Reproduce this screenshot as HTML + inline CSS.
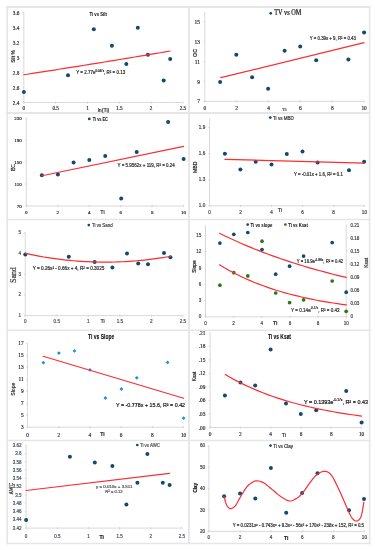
<!DOCTYPE html>
<html><head><meta charset="utf-8"><style>
html,body{margin:0;padding:0;background:#fff;width:375px;height:550px;overflow:hidden}
svg{display:block;filter:blur(0.3px)}
text{stroke-width:0.2px}
</style></head><body>
<svg width="375" height="550" viewBox="0 0 375 550" shape-rendering="auto">
<rect width="375" height="550" fill="#fff"/>
<line x1="6" y1="7" x2="370.4" y2="7" stroke="#e6e6e6" stroke-width="2.0"/>
<line x1="6" y1="113" x2="370.4" y2="113" stroke="#e6e6e6" stroke-width="2.0"/>
<line x1="6" y1="219.5" x2="370.4" y2="219.5" stroke="#e6e6e6" stroke-width="1.6"/>
<line x1="6" y1="330.2" x2="370.4" y2="330.2" stroke="#e6e6e6" stroke-width="1.6"/>
<line x1="6" y1="440.5" x2="370.4" y2="440.5" stroke="#e6e6e6" stroke-width="1.4"/>
<line x1="6" y1="543.5" x2="370.4" y2="543.5" stroke="#e6e6e6" stroke-width="1.6"/>
<line x1="7.2" y1="6" x2="7.2" y2="544.3" stroke="#e6e6e6" stroke-width="1.7"/>
<line x1="189" y1="6" x2="189" y2="544.3" stroke="#e6e6e6" stroke-width="1.9"/>
<line x1="369.6" y1="6" x2="369.6" y2="544.3" stroke="#e6e6e6" stroke-width="1.6"/>
<line x1="23.8" y1="12.5" x2="23.8" y2="102.5" stroke="#cfcfcf" stroke-width="0.8"/>
<line x1="23.8" y1="102.5" x2="182.9" y2="102.5" stroke="#cfcfcf" stroke-width="0.8"/>
<line x1="22.6" y1="102.5" x2="23.8" y2="102.5" stroke="#cfcfcf" stroke-width="0.8"/>
<line x1="22.6" y1="87.5" x2="23.8" y2="87.5" stroke="#cfcfcf" stroke-width="0.8"/>
<line x1="22.6" y1="72.5" x2="23.8" y2="72.5" stroke="#cfcfcf" stroke-width="0.8"/>
<line x1="22.6" y1="57.5" x2="23.8" y2="57.5" stroke="#cfcfcf" stroke-width="0.8"/>
<line x1="22.6" y1="42.5" x2="23.8" y2="42.5" stroke="#cfcfcf" stroke-width="0.8"/>
<line x1="22.6" y1="27.5" x2="23.8" y2="27.5" stroke="#cfcfcf" stroke-width="0.8"/>
<line x1="22.6" y1="12.5" x2="23.8" y2="12.5" stroke="#cfcfcf" stroke-width="0.8"/>
<line x1="23.8" y1="101.5" x2="23.8" y2="103.7" stroke="#cfcfcf" stroke-width="0.8"/>
<line x1="55.62" y1="101.5" x2="55.62" y2="103.7" stroke="#cfcfcf" stroke-width="0.8"/>
<line x1="87.44" y1="101.5" x2="87.44" y2="103.7" stroke="#cfcfcf" stroke-width="0.8"/>
<line x1="119.26" y1="101.5" x2="119.26" y2="103.7" stroke="#cfcfcf" stroke-width="0.8"/>
<line x1="151.08" y1="101.5" x2="151.08" y2="103.7" stroke="#cfcfcf" stroke-width="0.8"/>
<line x1="182.9" y1="101.5" x2="182.9" y2="103.7" stroke="#cfcfcf" stroke-width="0.8"/>
<text x="19.3" y="102.5" font-size="5.2" text-anchor="end" fill="#333" stroke="#333" font-weight="normal" font-family='"Liberation Serif", serif' dominant-baseline="central">2.4</text>
<text x="19.3" y="87.5" font-size="5.2" text-anchor="end" fill="#333" stroke="#333" font-weight="normal" font-family='"Liberation Serif", serif' dominant-baseline="central">2.6</text>
<text x="19.3" y="72.5" font-size="5.2" text-anchor="end" fill="#333" stroke="#333" font-weight="normal" font-family='"Liberation Serif", serif' dominant-baseline="central">2.8</text>
<text x="19.3" y="57.5" font-size="5.2" text-anchor="end" fill="#333" stroke="#333" font-weight="normal" font-family='"Liberation Serif", serif' dominant-baseline="central">3</text>
<text x="19.3" y="42.5" font-size="5.2" text-anchor="end" fill="#333" stroke="#333" font-weight="normal" font-family='"Liberation Serif", serif' dominant-baseline="central">3.2</text>
<text x="19.3" y="27.5" font-size="5.2" text-anchor="end" fill="#333" stroke="#333" font-weight="normal" font-family='"Liberation Serif", serif' dominant-baseline="central">3.4</text>
<text x="19.3" y="12.5" font-size="5.2" text-anchor="end" fill="#333" stroke="#333" font-weight="normal" font-family='"Liberation Serif", serif' dominant-baseline="central">3.6</text>
<text x="23.8" y="108.3" font-size="5.2" text-anchor="middle" fill="#333" stroke="#333" font-weight="normal" font-family='"Liberation Serif", serif' dominant-baseline="central">0</text>
<text x="55.62" y="108.3" font-size="5.2" text-anchor="middle" fill="#333" stroke="#333" font-weight="normal" font-family='"Liberation Serif", serif' dominant-baseline="central">0.5</text>
<text x="87.44" y="108.3" font-size="5.2" text-anchor="middle" fill="#333" stroke="#333" font-weight="normal" font-family='"Liberation Serif", serif' dominant-baseline="central">1</text>
<text x="119.26" y="108.3" font-size="5.2" text-anchor="middle" fill="#333" stroke="#333" font-weight="normal" font-family='"Liberation Serif", serif' dominant-baseline="central">1.5</text>
<text x="151.08" y="108.3" font-size="5.2" text-anchor="middle" fill="#333" stroke="#333" font-weight="normal" font-family='"Liberation Serif", serif' dominant-baseline="central">2</text>
<text x="182.9" y="108.3" font-size="5.2" text-anchor="middle" fill="#333" stroke="#333" font-weight="normal" font-family='"Liberation Serif", serif' dominant-baseline="central">2.5</text>
<circle cx="23.9" cy="92" r="2.0" fill="#114a6e"/>
<circle cx="68" cy="75.2" r="2.0" fill="#114a6e"/>
<circle cx="93.8" cy="29.3" r="2.0" fill="#114a6e"/>
<circle cx="111.9" cy="45.7" r="2.0" fill="#114a6e"/>
<circle cx="126.3" cy="64.1" r="2.0" fill="#114a6e"/>
<circle cx="137.8" cy="27.7" r="2.0" fill="#114a6e"/>
<circle cx="147.9" cy="54.7" r="2.0" fill="#114a6e"/>
<circle cx="163.7" cy="80.6" r="2.0" fill="#114a6e"/>
<circle cx="170.2" cy="59" r="2.0" fill="#114a6e"/>
<text x="89.4" y="14.2" font-size="5.2" fill="#111" stroke="#111" style="stroke-width:0.05px" font-weight="bold" font-family='"Liberation Sans", sans-serif' dominant-baseline="central" textLength="17.5" lengthAdjust="spacingAndGlyphs">Ti vs Silt</text>
<text x="12.8" y="56.5" font-size="5.2" text-anchor="middle" fill="#222" stroke="#222" font-weight="normal" font-family='"Liberation Sans", sans-serif' dominant-baseline="central" transform="rotate(-90 12.8 56.5)" textLength="12.6" lengthAdjust="spacingAndGlyphs">Silt %</text>
<text x="103.5" y="110.2" font-size="5.2" text-anchor="middle" fill="#333" stroke="#333" font-weight="normal" font-family='"Liberation Sans", sans-serif' dominant-baseline="central">ln(Ti)</text>
<text x="76.2" y="71.9" font-size="5.0" fill="#2a2a2a" stroke="#2a2a2a" font-weight="normal" font-family='"Liberation Sans", sans-serif' dominant-baseline="central" textLength="49" lengthAdjust="spacingAndGlyphs">Y = 2.77e<tspan dy="-1.4" font-size="3.2">0.047x</tspan><tspan dy="1.4">, R² = 0.13</tspan></text>
<line x1="204.8" y1="12" x2="204.8" y2="101.4" stroke="#cfcfcf" stroke-width="0.8"/>
<line x1="204.8" y1="101.4" x2="364.1" y2="101.4" stroke="#cfcfcf" stroke-width="0.8"/>
<line x1="203.6" y1="101.4" x2="204.8" y2="101.4" stroke="#cfcfcf" stroke-width="0.8"/>
<line x1="203.6" y1="81.5" x2="204.8" y2="81.5" stroke="#cfcfcf" stroke-width="0.8"/>
<line x1="203.6" y1="61.6" x2="204.8" y2="61.6" stroke="#cfcfcf" stroke-width="0.8"/>
<line x1="203.6" y1="41.7" x2="204.8" y2="41.7" stroke="#cfcfcf" stroke-width="0.8"/>
<line x1="203.6" y1="21.8" x2="204.8" y2="21.8" stroke="#cfcfcf" stroke-width="0.8"/>
<line x1="204.8" y1="100.4" x2="204.8" y2="102.6" stroke="#cfcfcf" stroke-width="0.8"/>
<line x1="236.66" y1="100.4" x2="236.66" y2="102.6" stroke="#cfcfcf" stroke-width="0.8"/>
<line x1="268.52" y1="100.4" x2="268.52" y2="102.6" stroke="#cfcfcf" stroke-width="0.8"/>
<line x1="300.38" y1="100.4" x2="300.38" y2="102.6" stroke="#cfcfcf" stroke-width="0.8"/>
<line x1="332.24" y1="100.4" x2="332.24" y2="102.6" stroke="#cfcfcf" stroke-width="0.8"/>
<line x1="364.1" y1="100.4" x2="364.1" y2="102.6" stroke="#cfcfcf" stroke-width="0.8"/>
<text x="200" y="101.4" font-size="5.4" text-anchor="end" fill="#333" stroke="#333" font-weight="normal" font-family='"Liberation Serif", serif' dominant-baseline="central">7</text>
<text x="200" y="81.5" font-size="5.4" text-anchor="end" fill="#333" stroke="#333" font-weight="normal" font-family='"Liberation Serif", serif' dominant-baseline="central">9</text>
<text x="200" y="61.6" font-size="5.4" text-anchor="end" fill="#333" stroke="#333" font-weight="normal" font-family='"Liberation Serif", serif' dominant-baseline="central">11</text>
<text x="200" y="41.7" font-size="5.4" text-anchor="end" fill="#333" stroke="#333" font-weight="normal" font-family='"Liberation Serif", serif' dominant-baseline="central">13</text>
<text x="200" y="21.8" font-size="5.4" text-anchor="end" fill="#333" stroke="#333" font-weight="normal" font-family='"Liberation Serif", serif' dominant-baseline="central">15</text>
<text x="204.8" y="107.5" font-size="5.4" text-anchor="middle" fill="#333" stroke="#333" font-weight="normal" font-family='"Liberation Serif", serif' dominant-baseline="central">0</text>
<text x="236.66" y="107.5" font-size="5.4" text-anchor="middle" fill="#333" stroke="#333" font-weight="normal" font-family='"Liberation Serif", serif' dominant-baseline="central">2</text>
<text x="268.52" y="107.5" font-size="5.4" text-anchor="middle" fill="#333" stroke="#333" font-weight="normal" font-family='"Liberation Serif", serif' dominant-baseline="central">4</text>
<text x="300.38" y="107.5" font-size="5.4" text-anchor="middle" fill="#333" stroke="#333" font-weight="normal" font-family='"Liberation Serif", serif' dominant-baseline="central">6</text>
<text x="332.24" y="107.5" font-size="5.4" text-anchor="middle" fill="#333" stroke="#333" font-weight="normal" font-family='"Liberation Serif", serif' dominant-baseline="central">8</text>
<text x="364.1" y="107.5" font-size="5.4" text-anchor="middle" fill="#333" stroke="#333" font-weight="normal" font-family='"Liberation Serif", serif' dominant-baseline="central">10</text>
<circle cx="220.1" cy="82" r="2.0" fill="#114a6e"/>
<circle cx="236.3" cy="54.8" r="2.0" fill="#114a6e"/>
<circle cx="252.1" cy="77.2" r="2.0" fill="#114a6e"/>
<circle cx="268.1" cy="88.8" r="2.0" fill="#114a6e"/>
<circle cx="284.6" cy="50.7" r="2.0" fill="#114a6e"/>
<circle cx="300.2" cy="46.5" r="2.0" fill="#114a6e"/>
<circle cx="316.2" cy="60.2" r="2.0" fill="#114a6e"/>
<circle cx="348.4" cy="59.4" r="2.0" fill="#114a6e"/>
<circle cx="364.1" cy="32.5" r="2.0" fill="#114a6e"/>
<circle cx="270.7" cy="13.3" r="1.35" fill="#114a6e"/>
<text x="274.3" y="13.1" font-size="7.2" fill="#111" stroke="#111" font-weight="normal" font-family='"Liberation Serif", serif' dominant-baseline="central" textLength="27" lengthAdjust="spacingAndGlyphs">TV vs OM</text>
<text x="194.6" y="53" font-size="5.2" text-anchor="middle" fill="#333" stroke="#333" font-weight="bold" font-family='"Liberation Sans", sans-serif' dominant-baseline="central" transform="rotate(-90 194.6 53)">OC</text>
<text x="284.5" y="109.1" font-size="5.0" text-anchor="middle" fill="#444" stroke="#444" font-weight="normal" font-family='"Liberation Serif", serif' dominant-baseline="central">Ti</text>
<text x="309.8" y="37.5" font-size="5.0" fill="#2a2a2a" stroke="#2a2a2a" font-weight="normal" font-family='"Liberation Sans", sans-serif' dominant-baseline="central" textLength="46.1" lengthAdjust="spacingAndGlyphs">Y = 0.39x + 9, R² = 0.43</text>
<line x1="26.3" y1="118" x2="26.3" y2="206" stroke="#cfcfcf" stroke-width="0.8"/>
<line x1="26.3" y1="206" x2="183.6" y2="206" stroke="#cfcfcf" stroke-width="0.8"/>
<line x1="25.1" y1="206" x2="26.3" y2="206" stroke="#cfcfcf" stroke-width="0.8"/>
<line x1="25.1" y1="184" x2="26.3" y2="184" stroke="#cfcfcf" stroke-width="0.8"/>
<line x1="25.1" y1="162" x2="26.3" y2="162" stroke="#cfcfcf" stroke-width="0.8"/>
<line x1="25.1" y1="140" x2="26.3" y2="140" stroke="#cfcfcf" stroke-width="0.8"/>
<line x1="25.1" y1="118" x2="26.3" y2="118" stroke="#cfcfcf" stroke-width="0.8"/>
<line x1="26.3" y1="205" x2="26.3" y2="207.2" stroke="#cfcfcf" stroke-width="0.8"/>
<line x1="57.76" y1="205" x2="57.76" y2="207.2" stroke="#cfcfcf" stroke-width="0.8"/>
<line x1="89.22" y1="205" x2="89.22" y2="207.2" stroke="#cfcfcf" stroke-width="0.8"/>
<line x1="120.68" y1="205" x2="120.68" y2="207.2" stroke="#cfcfcf" stroke-width="0.8"/>
<line x1="152.14" y1="205" x2="152.14" y2="207.2" stroke="#cfcfcf" stroke-width="0.8"/>
<line x1="183.6" y1="205" x2="183.6" y2="207.2" stroke="#cfcfcf" stroke-width="0.8"/>
<text x="21.8" y="206" font-size="5.0" text-anchor="end" fill="#333" stroke="#333" font-weight="normal" font-family='"Liberation Serif", serif' dominant-baseline="central">70</text>
<text x="21.8" y="184" font-size="5.0" text-anchor="end" fill="#333" stroke="#333" font-weight="normal" font-family='"Liberation Serif", serif' dominant-baseline="central">110</text>
<text x="21.8" y="162" font-size="5.0" text-anchor="end" fill="#333" stroke="#333" font-weight="normal" font-family='"Liberation Serif", serif' dominant-baseline="central">150</text>
<text x="21.8" y="140" font-size="5.0" text-anchor="end" fill="#333" stroke="#333" font-weight="normal" font-family='"Liberation Serif", serif' dominant-baseline="central">190</text>
<text x="21.8" y="118" font-size="5.0" text-anchor="end" fill="#333" stroke="#333" font-weight="normal" font-family='"Liberation Serif", serif' dominant-baseline="central">230</text>
<text x="26.3" y="212.2" font-size="5.0" text-anchor="middle" fill="#333" stroke="#333" font-weight="normal" font-family='"Liberation Serif", serif' dominant-baseline="central">0</text>
<text x="57.76" y="212.2" font-size="5.0" text-anchor="middle" fill="#333" stroke="#333" font-weight="normal" font-family='"Liberation Serif", serif' dominant-baseline="central">2</text>
<text x="89.22" y="212.2" font-size="5.0" text-anchor="middle" fill="#333" stroke="#333" font-weight="normal" font-family='"Liberation Serif", serif' dominant-baseline="central">4</text>
<text x="120.68" y="212.2" font-size="5.0" text-anchor="middle" fill="#333" stroke="#333" font-weight="normal" font-family='"Liberation Serif", serif' dominant-baseline="central">6</text>
<text x="152.14" y="212.2" font-size="5.0" text-anchor="middle" fill="#333" stroke="#333" font-weight="normal" font-family='"Liberation Serif", serif' dominant-baseline="central">8</text>
<text x="183.6" y="212.2" font-size="5.0" text-anchor="middle" fill="#333" stroke="#333" font-weight="normal" font-family='"Liberation Serif", serif' dominant-baseline="central">10</text>
<circle cx="41.9" cy="175.3" r="2.0" fill="#114a6e"/>
<circle cx="57.9" cy="174.5" r="2.0" fill="#114a6e"/>
<circle cx="73.6" cy="162.5" r="2.0" fill="#114a6e"/>
<circle cx="89.3" cy="159.9" r="2.0" fill="#114a6e"/>
<circle cx="105.2" cy="155.9" r="2.0" fill="#114a6e"/>
<circle cx="121.2" cy="198.5" r="2.0" fill="#114a6e"/>
<circle cx="136.7" cy="152.1" r="2.0" fill="#114a6e"/>
<circle cx="168.1" cy="122" r="2.0" fill="#114a6e"/>
<circle cx="183.6" cy="159.1" r="2.0" fill="#114a6e"/>
<circle cx="89.3" cy="118.9" r="1.35" fill="#114a6e"/>
<text x="92.7" y="118.9" font-size="5.0" fill="#111" stroke="#111" style="stroke-width:0.05px" font-weight="bold" font-family='"Liberation Sans", sans-serif' dominant-baseline="central" textLength="15.2" lengthAdjust="spacingAndGlyphs">Ti vs EC</text>
<text x="13.3" y="167.5" font-size="5.4" text-anchor="middle" fill="#222" stroke="#222" font-weight="normal" font-family='"Liberation Serif", serif' dominant-baseline="central" transform="rotate(-90 13.3 167.5)">EC</text>
<text x="102.5" y="211.8" font-size="5.4" text-anchor="middle" fill="#333" stroke="#333" font-weight="normal" font-family='"Liberation Sans", sans-serif' dominant-baseline="central">Ti</text>
<text x="117.6" y="165" font-size="5.0" fill="#2a2a2a" stroke="#2a2a2a" font-weight="normal" font-family='"Liberation Sans", sans-serif' dominant-baseline="central" textLength="57.2" lengthAdjust="spacingAndGlyphs">Y = 5.9562x + 119, R² = 0.24</text>
<line x1="209.6" y1="118.5" x2="209.6" y2="205.8" stroke="#cfcfcf" stroke-width="0.8"/>
<line x1="209.6" y1="205.8" x2="364.4" y2="205.8" stroke="#cfcfcf" stroke-width="0.8"/>
<line x1="208.4" y1="205.8" x2="209.6" y2="205.8" stroke="#cfcfcf" stroke-width="0.8"/>
<line x1="208.4" y1="179.7" x2="209.6" y2="179.7" stroke="#cfcfcf" stroke-width="0.8"/>
<line x1="208.4" y1="153.6" x2="209.6" y2="153.6" stroke="#cfcfcf" stroke-width="0.8"/>
<line x1="208.4" y1="127.5" x2="209.6" y2="127.5" stroke="#cfcfcf" stroke-width="0.8"/>
<line x1="209.6" y1="204.8" x2="209.6" y2="207" stroke="#cfcfcf" stroke-width="0.8"/>
<line x1="240.56" y1="204.8" x2="240.56" y2="207" stroke="#cfcfcf" stroke-width="0.8"/>
<line x1="271.52" y1="204.8" x2="271.52" y2="207" stroke="#cfcfcf" stroke-width="0.8"/>
<line x1="302.48" y1="204.8" x2="302.48" y2="207" stroke="#cfcfcf" stroke-width="0.8"/>
<line x1="333.44" y1="204.8" x2="333.44" y2="207" stroke="#cfcfcf" stroke-width="0.8"/>
<line x1="364.4" y1="204.8" x2="364.4" y2="207" stroke="#cfcfcf" stroke-width="0.8"/>
<text x="205.2" y="205.8" font-size="4.6" text-anchor="end" fill="#4a4a4a" stroke="#4a4a4a" font-weight="normal" font-family='"Liberation Sans", sans-serif' dominant-baseline="central">1.0</text>
<text x="205.2" y="179.7" font-size="4.6" text-anchor="end" fill="#4a4a4a" stroke="#4a4a4a" font-weight="normal" font-family='"Liberation Sans", sans-serif' dominant-baseline="central">1.3</text>
<text x="205.2" y="153.6" font-size="4.6" text-anchor="end" fill="#4a4a4a" stroke="#4a4a4a" font-weight="normal" font-family='"Liberation Sans", sans-serif' dominant-baseline="central">1.6</text>
<text x="205.2" y="127.5" font-size="4.6" text-anchor="end" fill="#4a4a4a" stroke="#4a4a4a" font-weight="normal" font-family='"Liberation Sans", sans-serif' dominant-baseline="central">1.9</text>
<text x="209.6" y="212.4" font-size="4.6" text-anchor="middle" fill="#4a4a4a" stroke="#4a4a4a" font-weight="normal" font-family='"Liberation Sans", sans-serif' dominant-baseline="central">0</text>
<text x="240.56" y="212.4" font-size="4.6" text-anchor="middle" fill="#4a4a4a" stroke="#4a4a4a" font-weight="normal" font-family='"Liberation Sans", sans-serif' dominant-baseline="central">2</text>
<text x="271.52" y="212.4" font-size="4.6" text-anchor="middle" fill="#4a4a4a" stroke="#4a4a4a" font-weight="normal" font-family='"Liberation Sans", sans-serif' dominant-baseline="central">4</text>
<text x="302.48" y="212.4" font-size="4.6" text-anchor="middle" fill="#4a4a4a" stroke="#4a4a4a" font-weight="normal" font-family='"Liberation Sans", sans-serif' dominant-baseline="central">6</text>
<text x="333.44" y="212.4" font-size="4.6" text-anchor="middle" fill="#4a4a4a" stroke="#4a4a4a" font-weight="normal" font-family='"Liberation Sans", sans-serif' dominant-baseline="central">8</text>
<text x="364.4" y="212.4" font-size="4.6" text-anchor="middle" fill="#4a4a4a" stroke="#4a4a4a" font-weight="normal" font-family='"Liberation Sans", sans-serif' dominant-baseline="central">10</text>
<circle cx="224.9" cy="153.7" r="2.0" fill="#114a6e"/>
<circle cx="240.4" cy="169.5" r="2.0" fill="#114a6e"/>
<circle cx="255.7" cy="161.7" r="2.0" fill="#114a6e"/>
<circle cx="271.5" cy="164.6" r="2.0" fill="#114a6e"/>
<circle cx="286.8" cy="154" r="2.0" fill="#114a6e"/>
<circle cx="302.5" cy="151.4" r="2.0" fill="#114a6e"/>
<circle cx="317.6" cy="162.6" r="2.0" fill="#114a6e"/>
<circle cx="349" cy="170.2" r="2.0" fill="#114a6e"/>
<circle cx="364.1" cy="161.8" r="2.0" fill="#114a6e"/>
<circle cx="270.3" cy="117.6" r="1.35" fill="#114a6e"/>
<text x="273" y="117.6" font-size="5.0" fill="#333" stroke="#333" font-weight="normal" font-family='"Liberation Sans", sans-serif' dominant-baseline="central" textLength="20.8" lengthAdjust="spacingAndGlyphs">Ti vs MBD</text>
<text x="194.7" y="167.2" font-size="5.0" text-anchor="middle" fill="#222" stroke="#222" font-weight="normal" font-family='"Liberation Sans", sans-serif' dominant-baseline="central" transform="rotate(-90 194.7 167.2)" textLength="11.4" lengthAdjust="spacingAndGlyphs">MBD</text>
<text x="279.8" y="210.1" font-size="5.4" text-anchor="middle" fill="#333" stroke="#333" font-weight="normal" font-family='"Liberation Sans", sans-serif' dominant-baseline="central">Ti</text>
<text x="294" y="173.6" font-size="5.0" fill="#2a2a2a" stroke="#2a2a2a" font-weight="normal" font-family='"Liberation Sans", sans-serif' dominant-baseline="central" textLength="48.8" lengthAdjust="spacingAndGlyphs">Y = -0.01x + 1.6, R² = 0.1</text>
<line x1="25.3" y1="232.7" x2="25.3" y2="315.6" stroke="#cfcfcf" stroke-width="0.8"/>
<line x1="25.3" y1="315.6" x2="182.9" y2="315.6" stroke="#cfcfcf" stroke-width="0.8"/>
<line x1="24.1" y1="315.6" x2="25.3" y2="315.6" stroke="#cfcfcf" stroke-width="0.8"/>
<line x1="24.1" y1="294.88" x2="25.3" y2="294.88" stroke="#cfcfcf" stroke-width="0.8"/>
<line x1="24.1" y1="274.15" x2="25.3" y2="274.15" stroke="#cfcfcf" stroke-width="0.8"/>
<line x1="24.1" y1="253.43" x2="25.3" y2="253.43" stroke="#cfcfcf" stroke-width="0.8"/>
<line x1="24.1" y1="232.7" x2="25.3" y2="232.7" stroke="#cfcfcf" stroke-width="0.8"/>
<line x1="25.3" y1="314.6" x2="25.3" y2="316.8" stroke="#cfcfcf" stroke-width="0.8"/>
<line x1="56.82" y1="314.6" x2="56.82" y2="316.8" stroke="#cfcfcf" stroke-width="0.8"/>
<line x1="88.34" y1="314.6" x2="88.34" y2="316.8" stroke="#cfcfcf" stroke-width="0.8"/>
<line x1="119.86" y1="314.6" x2="119.86" y2="316.8" stroke="#cfcfcf" stroke-width="0.8"/>
<line x1="151.38" y1="314.6" x2="151.38" y2="316.8" stroke="#cfcfcf" stroke-width="0.8"/>
<line x1="182.9" y1="314.6" x2="182.9" y2="316.8" stroke="#cfcfcf" stroke-width="0.8"/>
<text x="21" y="315.6" font-size="4.6" text-anchor="end" fill="#555" stroke="#555" font-weight="normal" font-family='"Liberation Sans", sans-serif' dominant-baseline="central">1</text>
<text x="21" y="294.88" font-size="4.6" text-anchor="end" fill="#555" stroke="#555" font-weight="normal" font-family='"Liberation Sans", sans-serif' dominant-baseline="central">2</text>
<text x="21" y="274.15" font-size="4.6" text-anchor="end" fill="#555" stroke="#555" font-weight="normal" font-family='"Liberation Sans", sans-serif' dominant-baseline="central">3</text>
<text x="21" y="253.43" font-size="4.6" text-anchor="end" fill="#555" stroke="#555" font-weight="normal" font-family='"Liberation Sans", sans-serif' dominant-baseline="central">4</text>
<text x="21" y="232.7" font-size="4.6" text-anchor="end" fill="#555" stroke="#555" font-weight="normal" font-family='"Liberation Sans", sans-serif' dominant-baseline="central">5</text>
<text x="25.3" y="321.8" font-size="4.6" text-anchor="middle" fill="#555" stroke="#555" font-weight="normal" font-family='"Liberation Sans", sans-serif' dominant-baseline="central">0</text>
<text x="56.82" y="321.8" font-size="4.6" text-anchor="middle" fill="#555" stroke="#555" font-weight="normal" font-family='"Liberation Sans", sans-serif' dominant-baseline="central">0.5</text>
<text x="88.34" y="321.8" font-size="4.6" text-anchor="middle" fill="#555" stroke="#555" font-weight="normal" font-family='"Liberation Sans", sans-serif' dominant-baseline="central">1</text>
<text x="119.86" y="321.8" font-size="4.6" text-anchor="middle" fill="#555" stroke="#555" font-weight="normal" font-family='"Liberation Sans", sans-serif' dominant-baseline="central">1.5</text>
<text x="151.38" y="321.8" font-size="4.6" text-anchor="middle" fill="#555" stroke="#555" font-weight="normal" font-family='"Liberation Sans", sans-serif' dominant-baseline="central">2</text>
<text x="182.9" y="321.8" font-size="4.6" text-anchor="middle" fill="#555" stroke="#555" font-weight="normal" font-family='"Liberation Sans", sans-serif' dominant-baseline="central">2.5</text>
<circle cx="25.3" cy="254.5" r="2.0" fill="#114a6e"/>
<circle cx="68.8" cy="256.7" r="2.0" fill="#114a6e"/>
<circle cx="94.7" cy="262" r="2.0" fill="#114a6e"/>
<circle cx="112.4" cy="267.6" r="2.0" fill="#114a6e"/>
<circle cx="127" cy="253.6" r="2.0" fill="#114a6e"/>
<circle cx="138.2" cy="263.6" r="2.0" fill="#114a6e"/>
<circle cx="148" cy="264.2" r="2.0" fill="#114a6e"/>
<circle cx="164" cy="253" r="2.0" fill="#114a6e"/>
<circle cx="170.4" cy="257.2" r="2.0" fill="#114a6e"/>
<circle cx="88.8" cy="225.1" r="1.35" fill="#114a6e"/>
<text x="92" y="225.2" font-size="5.0" fill="#444" stroke="#444" font-weight="normal" font-family='"Liberation Sans", sans-serif' dominant-baseline="central" textLength="20.6" lengthAdjust="spacingAndGlyphs">Ti vs Sand</text>
<text x="13.3" y="275.1" font-size="8.4" text-anchor="middle" fill="#333" stroke="#333" font-weight="normal" font-family='"Liberation Serif", serif' dominant-baseline="central" transform="rotate(-90 13.3 275.1)" textLength="15.6" lengthAdjust="spacingAndGlyphs">Sand</text>
<text x="102.6" y="320.8" font-size="5.4" text-anchor="middle" fill="#333" stroke="#333" font-weight="normal" font-family='"Liberation Sans", sans-serif' dominant-baseline="central">Ti</text>
<text x="32.7" y="267.9" font-size="5.0" fill="#2a2a2a" stroke="#2a2a2a" font-weight="normal" font-family='"Liberation Sans", sans-serif' dominant-baseline="central" textLength="71.7" lengthAdjust="spacingAndGlyphs">Y = 0.26x² - 0.66x + 4,   R² = 0.3025</text>
<line x1="205.5" y1="225.3" x2="205.5" y2="316.8" stroke="#cfcfcf" stroke-width="0.8"/>
<line x1="205.5" y1="316.8" x2="346.2" y2="316.8" stroke="#cfcfcf" stroke-width="0.8"/>
<line x1="204.3" y1="316.8" x2="205.5" y2="316.8" stroke="#cfcfcf" stroke-width="0.8"/>
<line x1="204.3" y1="300.54" x2="205.5" y2="300.54" stroke="#cfcfcf" stroke-width="0.8"/>
<line x1="204.3" y1="284.28" x2="205.5" y2="284.28" stroke="#cfcfcf" stroke-width="0.8"/>
<line x1="204.3" y1="268.02" x2="205.5" y2="268.02" stroke="#cfcfcf" stroke-width="0.8"/>
<line x1="204.3" y1="251.76" x2="205.5" y2="251.76" stroke="#cfcfcf" stroke-width="0.8"/>
<line x1="204.3" y1="235.5" x2="205.5" y2="235.5" stroke="#cfcfcf" stroke-width="0.8"/>
<line x1="205.5" y1="315.8" x2="205.5" y2="318" stroke="#cfcfcf" stroke-width="0.8"/>
<line x1="233.64" y1="315.8" x2="233.64" y2="318" stroke="#cfcfcf" stroke-width="0.8"/>
<line x1="261.78" y1="315.8" x2="261.78" y2="318" stroke="#cfcfcf" stroke-width="0.8"/>
<line x1="289.92" y1="315.8" x2="289.92" y2="318" stroke="#cfcfcf" stroke-width="0.8"/>
<line x1="318.06" y1="315.8" x2="318.06" y2="318" stroke="#cfcfcf" stroke-width="0.8"/>
<line x1="346.2" y1="315.8" x2="346.2" y2="318" stroke="#cfcfcf" stroke-width="0.8"/>
<text x="201.3" y="316.8" font-size="4.6" text-anchor="end" fill="#4a4a4a" stroke="#4a4a4a" font-weight="normal" font-family='"Liberation Sans", sans-serif' dominant-baseline="central">0</text>
<text x="201.3" y="300.54" font-size="4.6" text-anchor="end" fill="#4a4a4a" stroke="#4a4a4a" font-weight="normal" font-family='"Liberation Sans", sans-serif' dominant-baseline="central">3</text>
<text x="201.3" y="284.28" font-size="4.6" text-anchor="end" fill="#4a4a4a" stroke="#4a4a4a" font-weight="normal" font-family='"Liberation Sans", sans-serif' dominant-baseline="central">6</text>
<text x="201.3" y="268.02" font-size="4.6" text-anchor="end" fill="#4a4a4a" stroke="#4a4a4a" font-weight="normal" font-family='"Liberation Sans", sans-serif' dominant-baseline="central">9</text>
<text x="201.3" y="251.76" font-size="4.6" text-anchor="end" fill="#4a4a4a" stroke="#4a4a4a" font-weight="normal" font-family='"Liberation Sans", sans-serif' dominant-baseline="central">12</text>
<text x="201.3" y="235.5" font-size="4.6" text-anchor="end" fill="#4a4a4a" stroke="#4a4a4a" font-weight="normal" font-family='"Liberation Sans", sans-serif' dominant-baseline="central">15</text>
<text x="205.5" y="323.6" font-size="4.6" text-anchor="middle" fill="#4a4a4a" stroke="#4a4a4a" font-weight="normal" font-family='"Liberation Sans", sans-serif' dominant-baseline="central">0</text>
<text x="233.64" y="323.6" font-size="4.6" text-anchor="middle" fill="#4a4a4a" stroke="#4a4a4a" font-weight="normal" font-family='"Liberation Sans", sans-serif' dominant-baseline="central">2</text>
<text x="261.78" y="323.6" font-size="4.6" text-anchor="middle" fill="#4a4a4a" stroke="#4a4a4a" font-weight="normal" font-family='"Liberation Sans", sans-serif' dominant-baseline="central">4</text>
<line x1="346.2" y1="225" x2="346.2" y2="316" stroke="#cfcfcf" stroke-width="0.8"/>
<line x1="346.2" y1="316" x2="347.4" y2="316" stroke="#cfcfcf" stroke-width="0.8"/>
<text x="350.4" y="316" font-size="4.6" text-anchor="start" fill="#4a4a4a" stroke="#4a4a4a" font-weight="normal" font-family='"Liberation Sans", sans-serif' dominant-baseline="central">0</text>
<line x1="346.2" y1="303" x2="347.4" y2="303" stroke="#cfcfcf" stroke-width="0.8"/>
<text x="350.4" y="303" font-size="4.6" text-anchor="start" fill="#4a4a4a" stroke="#4a4a4a" font-weight="normal" font-family='"Liberation Sans", sans-serif' dominant-baseline="central">0.03</text>
<line x1="346.2" y1="290" x2="347.4" y2="290" stroke="#cfcfcf" stroke-width="0.8"/>
<text x="350.4" y="290" font-size="4.6" text-anchor="start" fill="#4a4a4a" stroke="#4a4a4a" font-weight="normal" font-family='"Liberation Sans", sans-serif' dominant-baseline="central">0.06</text>
<line x1="346.2" y1="277" x2="347.4" y2="277" stroke="#cfcfcf" stroke-width="0.8"/>
<text x="350.4" y="277" font-size="4.6" text-anchor="start" fill="#4a4a4a" stroke="#4a4a4a" font-weight="normal" font-family='"Liberation Sans", sans-serif' dominant-baseline="central">0.09</text>
<line x1="346.2" y1="264" x2="347.4" y2="264" stroke="#cfcfcf" stroke-width="0.8"/>
<text x="350.4" y="264" font-size="4.6" text-anchor="start" fill="#4a4a4a" stroke="#4a4a4a" font-weight="normal" font-family='"Liberation Sans", sans-serif' dominant-baseline="central">0.12</text>
<line x1="346.2" y1="251" x2="347.4" y2="251" stroke="#cfcfcf" stroke-width="0.8"/>
<text x="350.4" y="251" font-size="4.6" text-anchor="start" fill="#4a4a4a" stroke="#4a4a4a" font-weight="normal" font-family='"Liberation Sans", sans-serif' dominant-baseline="central">0.15</text>
<line x1="346.2" y1="238" x2="347.4" y2="238" stroke="#cfcfcf" stroke-width="0.8"/>
<text x="350.4" y="238" font-size="4.6" text-anchor="start" fill="#4a4a4a" stroke="#4a4a4a" font-weight="normal" font-family='"Liberation Sans", sans-serif' dominant-baseline="central">0.18</text>
<line x1="346.2" y1="225" x2="347.4" y2="225" stroke="#cfcfcf" stroke-width="0.8"/>
<text x="350.4" y="225" font-size="4.6" text-anchor="start" fill="#4a4a4a" stroke="#4a4a4a" font-weight="normal" font-family='"Liberation Sans", sans-serif' dominant-baseline="central">0.21</text>
<text x="289.92" y="323.2" font-size="4.6" text-anchor="middle" fill="#4a4a4a" stroke="#4a4a4a" font-weight="normal" font-family='"Liberation Sans", sans-serif' dominant-baseline="central">6</text>
<text x="318.06" y="323.2" font-size="4.6" text-anchor="middle" fill="#4a4a4a" stroke="#4a4a4a" font-weight="normal" font-family='"Liberation Sans", sans-serif' dominant-baseline="central">8</text>
<text x="346.2" y="323.2" font-size="4.6" text-anchor="middle" fill="#4a4a4a" stroke="#4a4a4a" font-weight="normal" font-family='"Liberation Sans", sans-serif' dominant-baseline="central">10</text>
<circle cx="219.9" cy="243.1" r="1.85" fill="#114a6e"/>
<circle cx="233.8" cy="234.3" r="1.85" fill="#114a6e"/>
<circle cx="247.8" cy="232.5" r="1.85" fill="#114a6e"/>
<circle cx="262" cy="249.5" r="1.85" fill="#114a6e"/>
<circle cx="275.7" cy="274.2" r="1.85" fill="#114a6e"/>
<circle cx="289.6" cy="266.2" r="1.85" fill="#114a6e"/>
<circle cx="303.6" cy="256.1" r="1.85" fill="#114a6e"/>
<circle cx="332.2" cy="242.6" r="1.85" fill="#114a6e"/>
<circle cx="346.2" cy="292.2" r="1.85" fill="#114a6e"/>
<circle cx="219.9" cy="285.2" r="1.85" fill="#2a7a12"/>
<circle cx="233.8" cy="272.7" r="1.85" fill="#2a7a12"/>
<circle cx="247.8" cy="275.9" r="1.85" fill="#2a7a12"/>
<circle cx="262" cy="241.2" r="1.85" fill="#2a7a12"/>
<circle cx="275.7" cy="293" r="1.85" fill="#2a7a12"/>
<circle cx="289.6" cy="302.6" r="1.85" fill="#2a7a12"/>
<circle cx="303.6" cy="299.8" r="1.85" fill="#2a7a12"/>
<circle cx="332.2" cy="281" r="1.85" fill="#2a7a12"/>
<circle cx="346.2" cy="311.3" r="1.85" fill="#2a7a12"/>
<circle cx="247.7" cy="224.6" r="1.35" fill="#114a6e"/>
<text x="250.5" y="224.7" font-size="5.6" fill="#111" stroke="#111" style="stroke-width:0.05px" font-weight="bold" font-family='"Liberation Sans", sans-serif' dominant-baseline="central" textLength="21.9" lengthAdjust="spacingAndGlyphs">Ti vs slope</text>
<circle cx="285.4" cy="224.6" r="1.35" fill="#2a7a12"/>
<text x="288.2" y="224.7" font-size="5.6" fill="#111" stroke="#111" style="stroke-width:0.05px" font-weight="bold" font-family='"Liberation Sans", sans-serif' dominant-baseline="central" textLength="19.6" lengthAdjust="spacingAndGlyphs">Ti vs Ksat</text>
<text x="194.5" y="266.5" font-size="4.8" text-anchor="middle" fill="#222" stroke="#222" font-weight="normal" font-family='"Liberation Sans", sans-serif' dominant-baseline="central" transform="rotate(-90 194.5 266.5)">Slope</text>
<text x="365.6" y="262.9" font-size="5.2" text-anchor="middle" fill="#333" stroke="#333" font-weight="normal" font-family='"Liberation Sans", sans-serif' dominant-baseline="central" transform="rotate(-90 365.6 262.9)" textLength="9.9" lengthAdjust="spacingAndGlyphs">Ksat</text>
<text x="275.2" y="323.2" font-size="5.0" text-anchor="middle" fill="#333" stroke="#333" font-weight="bold" font-family='"Liberation Sans", sans-serif' dominant-baseline="central">Ti</text>
<text x="296.8" y="261.2" font-size="5.4" fill="#2a2a2a" stroke="#2a2a2a" font-weight="normal" font-family='"Liberation Sans", sans-serif' dominant-baseline="central" textLength="46.4" lengthAdjust="spacingAndGlyphs">Y = 16.9e<tspan dy="-1.4" font-size="3.2">-0.095x</tspan><tspan dy="1.4">, R² = 0.42</tspan></text>
<text x="291.1" y="309.7" font-size="5.4" fill="#2a2a2a" stroke="#2a2a2a" font-weight="normal" font-family='"Liberation Sans", sans-serif' dominant-baseline="central" textLength="48.5" lengthAdjust="spacingAndGlyphs">Y = 0.14e<tspan dy="-1.4" font-size="3.2">-0.17x</tspan><tspan dy="1.4">, R² = 0.43</tspan></text>
<line x1="27.5" y1="343.2" x2="27.5" y2="427.2" stroke="#cfcfcf" stroke-width="0.8"/>
<line x1="27.5" y1="427.2" x2="183.6" y2="427.2" stroke="#cfcfcf" stroke-width="0.8"/>
<line x1="26.3" y1="427.2" x2="27.5" y2="427.2" stroke="#cfcfcf" stroke-width="0.8"/>
<line x1="26.3" y1="415.2" x2="27.5" y2="415.2" stroke="#cfcfcf" stroke-width="0.8"/>
<line x1="26.3" y1="403.2" x2="27.5" y2="403.2" stroke="#cfcfcf" stroke-width="0.8"/>
<line x1="26.3" y1="391.2" x2="27.5" y2="391.2" stroke="#cfcfcf" stroke-width="0.8"/>
<line x1="26.3" y1="379.2" x2="27.5" y2="379.2" stroke="#cfcfcf" stroke-width="0.8"/>
<line x1="26.3" y1="367.2" x2="27.5" y2="367.2" stroke="#cfcfcf" stroke-width="0.8"/>
<line x1="26.3" y1="355.2" x2="27.5" y2="355.2" stroke="#cfcfcf" stroke-width="0.8"/>
<line x1="26.3" y1="343.2" x2="27.5" y2="343.2" stroke="#cfcfcf" stroke-width="0.8"/>
<line x1="27.5" y1="426.2" x2="27.5" y2="428.4" stroke="#cfcfcf" stroke-width="0.8"/>
<line x1="58.72" y1="426.2" x2="58.72" y2="428.4" stroke="#cfcfcf" stroke-width="0.8"/>
<line x1="89.94" y1="426.2" x2="89.94" y2="428.4" stroke="#cfcfcf" stroke-width="0.8"/>
<line x1="121.16" y1="426.2" x2="121.16" y2="428.4" stroke="#cfcfcf" stroke-width="0.8"/>
<line x1="152.38" y1="426.2" x2="152.38" y2="428.4" stroke="#cfcfcf" stroke-width="0.8"/>
<line x1="183.6" y1="426.2" x2="183.6" y2="428.4" stroke="#cfcfcf" stroke-width="0.8"/>
<text x="23.6" y="427.2" font-size="5.3" text-anchor="end" fill="#333" stroke="#333" font-weight="normal" font-family='"Liberation Serif", serif' dominant-baseline="central">3</text>
<text x="23.6" y="415.2" font-size="5.3" text-anchor="end" fill="#333" stroke="#333" font-weight="normal" font-family='"Liberation Serif", serif' dominant-baseline="central">5</text>
<text x="23.6" y="403.2" font-size="5.3" text-anchor="end" fill="#333" stroke="#333" font-weight="normal" font-family='"Liberation Serif", serif' dominant-baseline="central">7</text>
<text x="23.6" y="391.2" font-size="5.3" text-anchor="end" fill="#333" stroke="#333" font-weight="normal" font-family='"Liberation Serif", serif' dominant-baseline="central">9</text>
<text x="23.6" y="379.2" font-size="5.3" text-anchor="end" fill="#333" stroke="#333" font-weight="normal" font-family='"Liberation Serif", serif' dominant-baseline="central">11</text>
<text x="23.6" y="367.2" font-size="5.3" text-anchor="end" fill="#333" stroke="#333" font-weight="normal" font-family='"Liberation Serif", serif' dominant-baseline="central">13</text>
<text x="23.6" y="355.2" font-size="5.3" text-anchor="end" fill="#333" stroke="#333" font-weight="normal" font-family='"Liberation Serif", serif' dominant-baseline="central">15</text>
<text x="23.6" y="343.2" font-size="5.3" text-anchor="end" fill="#333" stroke="#333" font-weight="normal" font-family='"Liberation Serif", serif' dominant-baseline="central">17</text>
<text x="27.5" y="434.5" font-size="5.3" text-anchor="middle" fill="#333" stroke="#333" font-weight="normal" font-family='"Liberation Serif", serif' dominant-baseline="central">0</text>
<text x="58.72" y="434.5" font-size="5.3" text-anchor="middle" fill="#333" stroke="#333" font-weight="normal" font-family='"Liberation Serif", serif' dominant-baseline="central">2</text>
<text x="89.94" y="434.5" font-size="5.3" text-anchor="middle" fill="#333" stroke="#333" font-weight="normal" font-family='"Liberation Serif", serif' dominant-baseline="central">4</text>
<text x="121.16" y="434.5" font-size="5.3" text-anchor="middle" fill="#333" stroke="#333" font-weight="normal" font-family='"Liberation Serif", serif' dominant-baseline="central">6</text>
<text x="152.38" y="434.5" font-size="5.3" text-anchor="middle" fill="#333" stroke="#333" font-weight="normal" font-family='"Liberation Serif", serif' dominant-baseline="central">8</text>
<text x="183.6" y="434.5" font-size="5.3" text-anchor="middle" fill="#333" stroke="#333" font-weight="normal" font-family='"Liberation Serif", serif' dominant-baseline="central">10</text>
<path d="M43.4 360.8L45.3 362.7L43.4 364.6L41.5 362.7Z" fill="#1b91e0"/>
<path d="M58.9 351.2L60.8 353.1L58.9 355L57 353.1Z" fill="#1b91e0"/>
<path d="M74.5 349L76.4 350.9L74.5 352.8L72.6 350.9Z" fill="#1b91e0"/>
<path d="M90 368L91.9 369.9L90 371.8L88.1 369.9Z" fill="#1b91e0"/>
<path d="M105.4 396.1L107.3 398L105.4 399.9L103.5 398Z" fill="#1b91e0"/>
<path d="M121.4 387.1L123.3 389L121.4 390.9L119.5 389Z" fill="#1b91e0"/>
<path d="M136.8 375.9L138.7 377.8L136.8 379.7L134.9 377.8Z" fill="#1b91e0"/>
<path d="M167.6 360.5L169.5 362.4L167.6 364.3L165.7 362.4Z" fill="#1b91e0"/>
<path d="M183.6 416.3L185.5 418.2L183.6 420.1L181.7 418.2Z" fill="#1b91e0"/>
<text x="88.1" y="336.4" font-size="6.6" fill="#000" stroke="#000" style="stroke-width:0.05px" font-weight="bold" font-family='"Liberation Sans", sans-serif' dominant-baseline="central" textLength="26.3" lengthAdjust="spacingAndGlyphs">Ti vs Slope</text>
<text x="12.8" y="389.2" font-size="5.0" text-anchor="middle" fill="#333" stroke="#333" font-weight="normal" font-family='"Liberation Sans", sans-serif' dominant-baseline="central" transform="rotate(-90 12.8 389.2)" textLength="13" lengthAdjust="spacingAndGlyphs">Slope</text>
<text x="102.4" y="434.2" font-size="5.0" text-anchor="middle" fill="#333" stroke="#333" font-weight="bold" font-family='"Liberation Sans", sans-serif' dominant-baseline="central">Ti</text>
<text x="116" y="404.5" font-size="6.0" fill="#111" stroke="#111" font-weight="normal" font-family='"Liberation Sans", sans-serif' dominant-baseline="central" textLength="69.1" lengthAdjust="spacingAndGlyphs">Y = -0.778x + 15.6, R² = 0.42</text>
<line x1="210.1" y1="332.9" x2="210.1" y2="427.5" stroke="#cfcfcf" stroke-width="0.8"/>
<line x1="210.1" y1="427.5" x2="361.6" y2="427.5" stroke="#cfcfcf" stroke-width="0.8"/>
<line x1="208.9" y1="427.5" x2="210.1" y2="427.5" stroke="#cfcfcf" stroke-width="0.8"/>
<line x1="208.9" y1="413.99" x2="210.1" y2="413.99" stroke="#cfcfcf" stroke-width="0.8"/>
<line x1="208.9" y1="400.47" x2="210.1" y2="400.47" stroke="#cfcfcf" stroke-width="0.8"/>
<line x1="208.9" y1="386.96" x2="210.1" y2="386.96" stroke="#cfcfcf" stroke-width="0.8"/>
<line x1="208.9" y1="373.44" x2="210.1" y2="373.44" stroke="#cfcfcf" stroke-width="0.8"/>
<line x1="208.9" y1="359.93" x2="210.1" y2="359.93" stroke="#cfcfcf" stroke-width="0.8"/>
<line x1="208.9" y1="346.41" x2="210.1" y2="346.41" stroke="#cfcfcf" stroke-width="0.8"/>
<line x1="208.9" y1="332.9" x2="210.1" y2="332.9" stroke="#cfcfcf" stroke-width="0.8"/>
<line x1="210.1" y1="426.5" x2="210.1" y2="428.7" stroke="#cfcfcf" stroke-width="0.8"/>
<line x1="240.4" y1="426.5" x2="240.4" y2="428.7" stroke="#cfcfcf" stroke-width="0.8"/>
<line x1="270.7" y1="426.5" x2="270.7" y2="428.7" stroke="#cfcfcf" stroke-width="0.8"/>
<line x1="301" y1="426.5" x2="301" y2="428.7" stroke="#cfcfcf" stroke-width="0.8"/>
<line x1="331.3" y1="426.5" x2="331.3" y2="428.7" stroke="#cfcfcf" stroke-width="0.8"/>
<line x1="361.6" y1="426.5" x2="361.6" y2="428.7" stroke="#cfcfcf" stroke-width="0.8"/>
<text x="205.4" y="427.5" font-size="5.3" text-anchor="end" fill="#333" stroke="#333" font-weight="normal" font-family='"Liberation Serif", serif' dominant-baseline="central">.00</text>
<text x="205.4" y="413.99" font-size="5.3" text-anchor="end" fill="#333" stroke="#333" font-weight="normal" font-family='"Liberation Serif", serif' dominant-baseline="central">.03</text>
<text x="205.4" y="400.47" font-size="5.3" text-anchor="end" fill="#333" stroke="#333" font-weight="normal" font-family='"Liberation Serif", serif' dominant-baseline="central">.06</text>
<text x="205.4" y="386.96" font-size="5.3" text-anchor="end" fill="#333" stroke="#333" font-weight="normal" font-family='"Liberation Serif", serif' dominant-baseline="central">.09</text>
<text x="205.4" y="373.44" font-size="5.3" text-anchor="end" fill="#333" stroke="#333" font-weight="normal" font-family='"Liberation Serif", serif' dominant-baseline="central">.12</text>
<text x="205.4" y="359.93" font-size="5.3" text-anchor="end" fill="#333" stroke="#333" font-weight="normal" font-family='"Liberation Serif", serif' dominant-baseline="central">.15</text>
<text x="205.4" y="346.41" font-size="5.3" text-anchor="end" fill="#333" stroke="#333" font-weight="normal" font-family='"Liberation Serif", serif' dominant-baseline="central">.18</text>
<text x="205.4" y="332.9" font-size="5.3" text-anchor="end" fill="#333" stroke="#333" font-weight="normal" font-family='"Liberation Serif", serif' dominant-baseline="central">.21</text>
<text x="210.1" y="433.7" font-size="5.3" text-anchor="middle" fill="#333" stroke="#333" font-weight="normal" font-family='"Liberation Serif", serif' dominant-baseline="central">0</text>
<text x="240.4" y="433.7" font-size="5.3" text-anchor="middle" fill="#333" stroke="#333" font-weight="normal" font-family='"Liberation Serif", serif' dominant-baseline="central">2</text>
<text x="270.7" y="433.7" font-size="5.3" text-anchor="middle" fill="#333" stroke="#333" font-weight="normal" font-family='"Liberation Serif", serif' dominant-baseline="central">4</text>
<text x="301" y="433.7" font-size="5.3" text-anchor="middle" fill="#333" stroke="#333" font-weight="normal" font-family='"Liberation Serif", serif' dominant-baseline="central">6</text>
<text x="331.3" y="433.7" font-size="5.3" text-anchor="middle" fill="#333" stroke="#333" font-weight="normal" font-family='"Liberation Serif", serif' dominant-baseline="central">8</text>
<text x="361.6" y="433.7" font-size="5.3" text-anchor="middle" fill="#333" stroke="#333" font-weight="normal" font-family='"Liberation Serif", serif' dominant-baseline="central">10</text>
<circle cx="224.9" cy="395.5" r="2.0" fill="#114a6e"/>
<circle cx="240.4" cy="382.6" r="2.0" fill="#114a6e"/>
<circle cx="255.2" cy="385.5" r="2.0" fill="#114a6e"/>
<circle cx="270.6" cy="349.4" r="2.0" fill="#114a6e"/>
<circle cx="286" cy="403.6" r="2.0" fill="#114a6e"/>
<circle cx="300.8" cy="414" r="2.0" fill="#114a6e"/>
<circle cx="316.2" cy="410.3" r="2.0" fill="#114a6e"/>
<circle cx="346.2" cy="391" r="2.0" fill="#114a6e"/>
<circle cx="361.6" cy="422.6" r="2.0" fill="#114a6e"/>
<text x="267.9" y="336.4" font-size="6.6" fill="#000" stroke="#000" style="stroke-width:0.05px" font-weight="bold" font-family='"Liberation Sans", sans-serif' dominant-baseline="central" textLength="23.1" lengthAdjust="spacingAndGlyphs">Ti vs Ksat</text>
<text x="194" y="376.5" font-size="4.8" text-anchor="middle" fill="#222" stroke="#222" font-weight="normal" font-family='"Liberation Sans", sans-serif' dominant-baseline="central" transform="rotate(-90 194 376.5)">Ksat</text>
<text x="284" y="434.8" font-size="5.4" text-anchor="middle" fill="#333" stroke="#333" font-weight="normal" font-family='"Liberation Sans", sans-serif' dominant-baseline="central">Ti</text>
<text x="303.9" y="401.9" font-size="6.0" fill="#111" stroke="#111" font-weight="normal" font-family='"Liberation Sans", sans-serif' dominant-baseline="central" textLength="64.1" lengthAdjust="spacingAndGlyphs">Y = 0.1393e<tspan dy="-1.6" font-size="3.6">-0.17x</tspan><tspan dy="1.6">, R² = 0.43</tspan></text>
<line x1="26.1" y1="445" x2="26.1" y2="528.1" stroke="#cfcfcf" stroke-width="0.8"/>
<line x1="26.1" y1="528.1" x2="181.9" y2="528.1" stroke="#cfcfcf" stroke-width="0.8"/>
<line x1="24.9" y1="528.1" x2="26.1" y2="528.1" stroke="#cfcfcf" stroke-width="0.8"/>
<line x1="24.9" y1="519.84" x2="26.1" y2="519.84" stroke="#cfcfcf" stroke-width="0.8"/>
<line x1="24.9" y1="511.58" x2="26.1" y2="511.58" stroke="#cfcfcf" stroke-width="0.8"/>
<line x1="24.9" y1="503.32" x2="26.1" y2="503.32" stroke="#cfcfcf" stroke-width="0.8"/>
<line x1="24.9" y1="495.06" x2="26.1" y2="495.06" stroke="#cfcfcf" stroke-width="0.8"/>
<line x1="24.9" y1="486.8" x2="26.1" y2="486.8" stroke="#cfcfcf" stroke-width="0.8"/>
<line x1="24.9" y1="478.54" x2="26.1" y2="478.54" stroke="#cfcfcf" stroke-width="0.8"/>
<line x1="24.9" y1="470.28" x2="26.1" y2="470.28" stroke="#cfcfcf" stroke-width="0.8"/>
<line x1="24.9" y1="462.02" x2="26.1" y2="462.02" stroke="#cfcfcf" stroke-width="0.8"/>
<line x1="24.9" y1="453.76" x2="26.1" y2="453.76" stroke="#cfcfcf" stroke-width="0.8"/>
<line x1="24.9" y1="445.5" x2="26.1" y2="445.5" stroke="#cfcfcf" stroke-width="0.8"/>
<line x1="26.1" y1="527.1" x2="26.1" y2="529.3" stroke="#cfcfcf" stroke-width="0.8"/>
<line x1="57.26" y1="527.1" x2="57.26" y2="529.3" stroke="#cfcfcf" stroke-width="0.8"/>
<line x1="88.42" y1="527.1" x2="88.42" y2="529.3" stroke="#cfcfcf" stroke-width="0.8"/>
<line x1="119.58" y1="527.1" x2="119.58" y2="529.3" stroke="#cfcfcf" stroke-width="0.8"/>
<line x1="150.74" y1="527.1" x2="150.74" y2="529.3" stroke="#cfcfcf" stroke-width="0.8"/>
<line x1="181.9" y1="527.1" x2="181.9" y2="529.3" stroke="#cfcfcf" stroke-width="0.8"/>
<text x="21.6" y="528.1" font-size="4.5" text-anchor="end" fill="#4a5560" stroke="#4a5560" font-weight="normal" font-family='"Liberation Sans", sans-serif' dominant-baseline="central">3.42</text>
<text x="21.6" y="519.84" font-size="4.5" text-anchor="end" fill="#4a5560" stroke="#4a5560" font-weight="normal" font-family='"Liberation Sans", sans-serif' dominant-baseline="central">3.44</text>
<text x="21.6" y="511.58" font-size="4.5" text-anchor="end" fill="#4a5560" stroke="#4a5560" font-weight="normal" font-family='"Liberation Sans", sans-serif' dominant-baseline="central">3.46</text>
<text x="21.6" y="503.32" font-size="4.5" text-anchor="end" fill="#4a5560" stroke="#4a5560" font-weight="normal" font-family='"Liberation Sans", sans-serif' dominant-baseline="central">3.48</text>
<text x="21.6" y="495.06" font-size="4.5" text-anchor="end" fill="#4a5560" stroke="#4a5560" font-weight="normal" font-family='"Liberation Sans", sans-serif' dominant-baseline="central">3.5</text>
<text x="21.6" y="486.8" font-size="4.5" text-anchor="end" fill="#4a5560" stroke="#4a5560" font-weight="normal" font-family='"Liberation Sans", sans-serif' dominant-baseline="central">3.52</text>
<text x="21.6" y="478.54" font-size="4.5" text-anchor="end" fill="#4a5560" stroke="#4a5560" font-weight="normal" font-family='"Liberation Sans", sans-serif' dominant-baseline="central">3.54</text>
<text x="21.6" y="470.28" font-size="4.5" text-anchor="end" fill="#4a5560" stroke="#4a5560" font-weight="normal" font-family='"Liberation Sans", sans-serif' dominant-baseline="central">3.56</text>
<text x="21.6" y="462.02" font-size="4.5" text-anchor="end" fill="#4a5560" stroke="#4a5560" font-weight="normal" font-family='"Liberation Sans", sans-serif' dominant-baseline="central">3.58</text>
<text x="21.6" y="453.76" font-size="4.5" text-anchor="end" fill="#4a5560" stroke="#4a5560" font-weight="normal" font-family='"Liberation Sans", sans-serif' dominant-baseline="central">3.6</text>
<text x="21.6" y="445.5" font-size="4.5" text-anchor="end" fill="#4a5560" stroke="#4a5560" font-weight="normal" font-family='"Liberation Sans", sans-serif' dominant-baseline="central">3.62</text>
<text x="26.1" y="536" font-size="4.5" text-anchor="middle" fill="#4a5560" stroke="#4a5560" font-weight="normal" font-family='"Liberation Sans", sans-serif' dominant-baseline="central">0</text>
<text x="57.26" y="536" font-size="4.5" text-anchor="middle" fill="#4a5560" stroke="#4a5560" font-weight="normal" font-family='"Liberation Sans", sans-serif' dominant-baseline="central">0.5</text>
<text x="88.42" y="536" font-size="4.5" text-anchor="middle" fill="#4a5560" stroke="#4a5560" font-weight="normal" font-family='"Liberation Sans", sans-serif' dominant-baseline="central">1</text>
<text x="119.58" y="536" font-size="4.5" text-anchor="middle" fill="#4a5560" stroke="#4a5560" font-weight="normal" font-family='"Liberation Sans", sans-serif' dominant-baseline="central">1.5</text>
<text x="150.74" y="536" font-size="4.5" text-anchor="middle" fill="#4a5560" stroke="#4a5560" font-weight="normal" font-family='"Liberation Sans", sans-serif' dominant-baseline="central">2</text>
<text x="181.9" y="536" font-size="4.5" text-anchor="middle" fill="#4a5560" stroke="#4a5560" font-weight="normal" font-family='"Liberation Sans", sans-serif' dominant-baseline="central">2.5</text>
<circle cx="26.1" cy="519.9" r="2.0" fill="#114a6e"/>
<circle cx="69.9" cy="456.7" r="2.0" fill="#114a6e"/>
<circle cx="94.8" cy="462.4" r="2.0" fill="#114a6e"/>
<circle cx="112.4" cy="466" r="2.0" fill="#114a6e"/>
<circle cx="126.4" cy="504.6" r="2.0" fill="#114a6e"/>
<circle cx="137.4" cy="482.8" r="2.0" fill="#114a6e"/>
<circle cx="147.4" cy="454" r="2.0" fill="#114a6e"/>
<circle cx="162.8" cy="482.8" r="2.0" fill="#114a6e"/>
<circle cx="169.6" cy="485" r="2.0" fill="#114a6e"/>
<circle cx="137.3" cy="445" r="1.35" fill="#114a6e"/>
<text x="139.9" y="445" font-size="4.8" fill="#555" stroke="#555" font-weight="normal" font-family='"Liberation Sans", sans-serif' dominant-baseline="central" textLength="20" lengthAdjust="spacingAndGlyphs">Ti vs AWC</text>
<text x="10.7" y="488.7" font-size="5.4" text-anchor="middle" fill="#222" stroke="#222" font-weight="normal" font-family='"Liberation Serif", serif' dominant-baseline="central" transform="rotate(-90 10.7 488.7)" textLength="11.5" lengthAdjust="spacingAndGlyphs">AWC</text>
<text x="101.8" y="536.9" font-size="5.0" text-anchor="middle" fill="#222" stroke="#222" font-weight="bold" font-family='"Liberation Sans", sans-serif' dominant-baseline="central">Ti</text>
<text x="96" y="486.3" font-size="4.4" fill="#555" stroke="#555" font-weight="normal" font-family='"Liberation Sans", sans-serif' dominant-baseline="central" textLength="36.4" lengthAdjust="spacingAndGlyphs">y = 0.018x + 3.511</text>
<text x="105.3" y="491.3" font-size="4.4" fill="#555" stroke="#555" font-weight="normal" font-family='"Liberation Sans", sans-serif' dominant-baseline="central" textLength="17.4" lengthAdjust="spacingAndGlyphs">R² = 0.12</text>
<line x1="208.9" y1="445.3" x2="208.9" y2="531.4" stroke="#cfcfcf" stroke-width="0.8"/>
<line x1="208.9" y1="531.4" x2="364.4" y2="531.4" stroke="#cfcfcf" stroke-width="0.8"/>
<line x1="207.7" y1="531.4" x2="208.9" y2="531.4" stroke="#cfcfcf" stroke-width="0.8"/>
<line x1="207.7" y1="510" x2="208.9" y2="510" stroke="#cfcfcf" stroke-width="0.8"/>
<line x1="207.7" y1="488.6" x2="208.9" y2="488.6" stroke="#cfcfcf" stroke-width="0.8"/>
<line x1="207.7" y1="467.2" x2="208.9" y2="467.2" stroke="#cfcfcf" stroke-width="0.8"/>
<line x1="207.7" y1="445.8" x2="208.9" y2="445.8" stroke="#cfcfcf" stroke-width="0.8"/>
<line x1="208.9" y1="530.4" x2="208.9" y2="532.6" stroke="#cfcfcf" stroke-width="0.8"/>
<line x1="240" y1="530.4" x2="240" y2="532.6" stroke="#cfcfcf" stroke-width="0.8"/>
<line x1="271.1" y1="530.4" x2="271.1" y2="532.6" stroke="#cfcfcf" stroke-width="0.8"/>
<line x1="302.2" y1="530.4" x2="302.2" y2="532.6" stroke="#cfcfcf" stroke-width="0.8"/>
<line x1="333.3" y1="530.4" x2="333.3" y2="532.6" stroke="#cfcfcf" stroke-width="0.8"/>
<line x1="364.4" y1="530.4" x2="364.4" y2="532.6" stroke="#cfcfcf" stroke-width="0.8"/>
<text x="205" y="531.4" font-size="4.6" text-anchor="end" fill="#4a4a4a" stroke="#4a4a4a" font-weight="normal" font-family='"Liberation Sans", sans-serif' dominant-baseline="central">20</text>
<text x="205" y="510" font-size="4.6" text-anchor="end" fill="#4a4a4a" stroke="#4a4a4a" font-weight="normal" font-family='"Liberation Sans", sans-serif' dominant-baseline="central">30</text>
<text x="205" y="488.6" font-size="4.6" text-anchor="end" fill="#4a4a4a" stroke="#4a4a4a" font-weight="normal" font-family='"Liberation Sans", sans-serif' dominant-baseline="central">40</text>
<text x="205" y="467.2" font-size="4.6" text-anchor="end" fill="#4a4a4a" stroke="#4a4a4a" font-weight="normal" font-family='"Liberation Sans", sans-serif' dominant-baseline="central">50</text>
<text x="205" y="445.8" font-size="4.6" text-anchor="end" fill="#4a4a4a" stroke="#4a4a4a" font-weight="normal" font-family='"Liberation Sans", sans-serif' dominant-baseline="central">60</text>
<text x="208.9" y="537.6" font-size="4.6" text-anchor="middle" fill="#4a4a4a" stroke="#4a4a4a" font-weight="normal" font-family='"Liberation Sans", sans-serif' dominant-baseline="central">0</text>
<text x="240" y="537.6" font-size="4.6" text-anchor="middle" fill="#4a4a4a" stroke="#4a4a4a" font-weight="normal" font-family='"Liberation Sans", sans-serif' dominant-baseline="central">2</text>
<text x="271.1" y="537.6" font-size="4.6" text-anchor="middle" fill="#4a4a4a" stroke="#4a4a4a" font-weight="normal" font-family='"Liberation Sans", sans-serif' dominant-baseline="central">4</text>
<text x="302.2" y="537.6" font-size="4.6" text-anchor="middle" fill="#4a4a4a" stroke="#4a4a4a" font-weight="normal" font-family='"Liberation Sans", sans-serif' dominant-baseline="central">6</text>
<text x="333.3" y="537.6" font-size="4.6" text-anchor="middle" fill="#4a4a4a" stroke="#4a4a4a" font-weight="normal" font-family='"Liberation Sans", sans-serif' dominant-baseline="central">8</text>
<text x="364.4" y="537.6" font-size="4.6" text-anchor="middle" fill="#4a4a4a" stroke="#4a4a4a" font-weight="normal" font-family='"Liberation Sans", sans-serif' dominant-baseline="central">10</text>
<circle cx="224.1" cy="496.3" r="2.0" fill="#114a6e"/>
<circle cx="240.1" cy="493.5" r="2.0" fill="#114a6e"/>
<circle cx="255.3" cy="498.6" r="2.0" fill="#114a6e"/>
<circle cx="270.9" cy="468.1" r="2.0" fill="#114a6e"/>
<circle cx="286.2" cy="512.8" r="2.0" fill="#114a6e"/>
<circle cx="302.1" cy="493" r="2.0" fill="#114a6e"/>
<circle cx="317.5" cy="473.2" r="2.0" fill="#114a6e"/>
<circle cx="349" cy="510.3" r="2.0" fill="#114a6e"/>
<circle cx="364" cy="499" r="2.0" fill="#114a6e"/>
<circle cx="270.5" cy="445.6" r="1.35" fill="#114a6e"/>
<text x="273.3" y="445.8" font-size="5.0" fill="#333" stroke="#333" font-weight="normal" font-family='"Liberation Sans", sans-serif' dominant-baseline="central" textLength="19.7" lengthAdjust="spacingAndGlyphs">Ti vs Clay</text>
<text x="194.6" y="487.7" font-size="5.2" text-anchor="middle" fill="#111" stroke="#111" font-weight="bold" font-family='"Liberation Sans", sans-serif' dominant-baseline="central" transform="rotate(-90 194.6 487.7)" textLength="9.6" lengthAdjust="spacingAndGlyphs">Clay</text>
<text x="286.2" y="538.3" font-size="5.0" text-anchor="middle" fill="#222" stroke="#222" font-weight="bold" font-family='"Liberation Sans", sans-serif' dominant-baseline="central">Ti</text>
<text x="232.7" y="525.6" font-size="4.8" fill="#2a2a2a" stroke="#2a2a2a" font-weight="normal" font-family='"Liberation Sans", sans-serif' dominant-baseline="central" textLength="131.3" lengthAdjust="spacingAndGlyphs">Y = 0.0231x⁶ - 0.743x⁵ + 9.3x⁴ - 56x³ + 170x² - 238x + 152, R² = 0.5</text>
<path d="M23.8 74.75 L28.85 73.97 L33.89 73.2 L38.94 72.41 L43.99 71.63 L49.04 70.84 L54.08 70.05 L59.13 69.26 L64.18 68.46 L69.23 67.66 L74.27 66.86 L79.32 66.05 L84.37 65.25 L89.42 64.43 L94.46 63.62 L99.51 62.8 L104.56 61.98 L109.6 61.16 L114.65 60.33 L119.7 59.5 L124.75 58.67 L129.79 57.83 L134.84 57 L139.89 56.15 L144.94 55.31 L149.98 54.46 L155.03 53.61 L160.08 52.75 L165.12 51.89 L170.17 51.03" fill="none" stroke="#fb2d33" stroke-width="1.2" stroke-linejoin="round" stroke-linecap="round"/>
<path d="M220.73 77.62 L364.1 42.69" fill="none" stroke="#fb2d33" stroke-width="1.2" stroke-linejoin="round" stroke-linecap="round"/>
<path d="M42.03 175.77 L183.6 146.29" fill="none" stroke="#fb2d33" stroke-width="1.2" stroke-linejoin="round" stroke-linecap="round"/>
<path d="M224.9 159.3 L364.1 163.2" fill="none" stroke="#fb2d33" stroke-width="1.2" stroke-linejoin="round" stroke-linecap="round"/>
<path d="M25.3 253.43 L29.02 254.21 L32.74 254.96 L36.45 255.68 L40.17 256.35 L43.89 256.99 L47.61 257.59 L51.32 258.15 L55.04 258.68 L58.76 259.17 L62.48 259.62 L66.2 260.03 L69.91 260.41 L73.63 260.74 L77.35 261.05 L81.07 261.31 L84.78 261.53 L88.5 261.72 L92.22 261.87 L95.94 261.99 L99.65 262.06 L103.37 262.1 L107.09 262.1 L110.81 262.06 L114.53 261.99 L118.24 261.88 L121.96 261.73 L125.68 261.54 L129.4 261.32 L133.11 261.06 L136.83 260.76 L140.55 260.42 L144.27 260.05 L147.99 259.64 L151.7 259.19 L155.42 258.7 L159.14 258.18 L162.86 257.62 L166.57 257.02 L170.29 256.38" fill="none" stroke="#fb2d33" stroke-width="1.2" stroke-linejoin="round" stroke-linecap="round"/>
<path d="M219.57 233.33 L223.94 235.46 L228.3 237.54 L232.67 239.57 L237.04 241.54 L241.4 243.46 L245.77 245.34 L250.14 247.16 L254.5 248.94 L258.87 250.68 L263.24 252.37 L267.6 254.01 L271.97 255.62 L276.34 257.18 L280.7 258.7 L285.07 260.19 L289.43 261.63 L293.8 263.04 L298.17 264.42 L302.53 265.76 L306.9 267.06 L311.27 268.33 L315.63 269.57 L320 270.78 L324.37 271.95 L328.73 273.1 L333.1 274.22 L337.47 275.3 L341.83 276.36 L346.2 277.4" fill="none" stroke="#fb2d33" stroke-width="1.2" stroke-linejoin="round" stroke-linecap="round"/>
<path d="M219.57 264.82 L223.94 267.45 L228.3 269.94 L232.67 272.31 L237.04 274.56 L241.4 276.69 L245.77 278.71 L250.14 280.62 L254.5 282.44 L258.87 284.16 L263.24 285.8 L267.6 287.35 L271.97 288.83 L276.34 290.22 L280.7 291.55 L285.07 292.8 L289.43 294 L293.8 295.13 L298.17 296.2 L302.53 297.22 L306.9 298.18 L311.27 299.1 L315.63 299.97 L320 300.79 L324.37 301.57 L328.73 302.31 L333.1 303.02 L337.47 303.68 L341.83 304.32 L346.2 304.92" fill="none" stroke="#fb2d33" stroke-width="1.2" stroke-linejoin="round" stroke-linecap="round"/>
<path d="M43.11 356.27 L183.6 398.28" fill="none" stroke="#fb2d33" stroke-width="1.2" stroke-linejoin="round" stroke-linecap="round"/>
<path d="M225.25 374.56 L229.95 377.28 L234.65 379.86 L239.36 382.31 L244.06 384.63 L248.76 386.83 L253.46 388.92 L258.16 390.91 L262.86 392.79 L267.57 394.57 L272.27 396.26 L276.97 397.87 L281.67 399.39 L286.37 400.84 L291.07 402.21 L295.78 403.51 L300.48 404.74 L305.18 405.91 L309.88 407.02 L314.58 408.07 L319.28 409.07 L323.99 410.02 L328.69 410.92 L333.39 411.77 L338.09 412.58 L342.79 413.34 L347.49 414.07 L352.2 414.76 L356.9 415.42 L361.6 416.04" fill="none" stroke="#fb2d33" stroke-width="1.2" stroke-linejoin="round" stroke-linecap="round"/>
<path d="M26.1 490.52 L169.44 473.42" fill="none" stroke="#fb2d33" stroke-width="1.2" stroke-linejoin="round" stroke-linecap="round"/>
<path d="M224 496.3 L224.23 497.15 L224.54 498.36 L224.92 499.77 L225.32 501.24 L225.73 502.6 L226.1 503.7 L226.44 504.55 L226.77 505.27 L227.11 505.88 L227.45 506.41 L227.81 506.88 L228.2 507.3 L228.61 507.7 L229.03 508.06 L229.46 508.35 L229.93 508.56 L230.44 508.65 L231 508.6 L231.62 508.44 L232.29 508.2 L232.99 507.85 L233.74 507.35 L234.51 506.68 L235.3 505.8 L236.11 504.66 L236.95 503.27 L237.82 501.7 L238.71 500.03 L239.64 498.34 L240.6 496.7 L241.6 495.03 L242.65 493.25 L243.73 491.44 L244.83 489.7 L245.92 488.09 L247 486.7 L248.09 485.53 L249.21 484.51 L250.34 483.62 L251.43 482.87 L252.46 482.23 L253.4 481.7 L254.2 481.29 L254.88 481.01 L255.5 480.86 L256.12 480.8 L256.8 480.82 L257.6 480.9 L258.51 481.03 L259.49 481.21 L260.52 481.47 L261.62 481.84 L262.78 482.34 L264 483 L265.31 483.87 L266.71 484.95 L268.17 486.16 L269.66 487.43 L271.15 488.7 L272.6 489.9 L274.02 491.07 L275.44 492.27 L276.86 493.46 L278.28 494.62 L279.69 495.71 L281.1 496.7 L282.52 497.64 L283.97 498.57 L285.41 499.43 L286.82 500.16 L288.19 500.71 L289.5 501 L290.74 501 L291.93 500.76 L293.07 500.32 L294.17 499.76 L295.25 499.13 L296.3 498.5 L297.29 497.89 L298.2 497.27 L299.08 496.57 L299.97 495.77 L300.93 494.79 L302 493.6 L303.22 492.1 L304.54 490.3 L305.94 488.34 L307.34 486.34 L308.72 484.42 L310 482.7 L311.18 481.15 L312.28 479.65 L313.35 478.23 L314.42 476.92 L315.52 475.73 L316.7 474.7 L317.97 473.78 L319.31 472.95 L320.69 472.24 L322.07 471.71 L323.42 471.38 L324.7 471.3 L325.89 471.42 L327.01 471.7 L328.11 472.19 L329.2 472.93 L330.32 473.99 L331.5 475.4 L332.75 477.26 L334.05 479.53 L335.38 482.12 L336.72 484.9 L338.06 487.76 L339.4 490.6 L340.77 493.57 L342.19 496.79 L343.61 500.09 L344.99 503.3 L346.27 506.26 L347.4 508.8 L348.35 510.9 L349.16 512.7 L349.87 514.24 L350.53 515.57 L351.19 516.74 L351.9 517.8 L352.65 518.76 L353.4 519.57 L354.14 520.23 L354.89 520.7 L355.64 520.97 L356.4 521 L357.18 520.84 L357.99 520.51 L358.8 519.97 L359.59 519.18 L360.33 518.11 L361 516.7 L361.62 514.68 L362.2 512.03 L362.74 509.08 L363.21 506.2 L363.6 503.72 L363.9 502" fill="none" stroke="#fb2d33" stroke-width="1.2" stroke-linejoin="round" stroke-linecap="round"/>
</svg>
</body></html>
